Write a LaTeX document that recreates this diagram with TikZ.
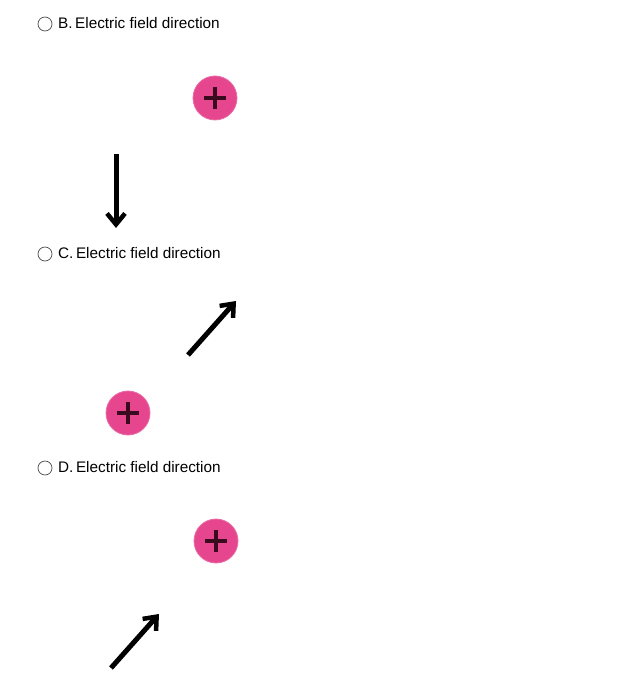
\documentclass[tikz,border=0pt]{standalone}
\usepackage{fontspec}
\setmainfont{Liberation Sans}
\usetikzlibrary{arrows.meta}
\definecolor{pinkc}{HTML}{E5468E}
\definecolor{plusc}{HTML}{3A0A1E}
\tikzset{
  charge/.style={circle,fill=pinkc,draw=pinkc!80!white,line width=0.8pt,minimum size=44pt,inner sep=0pt},
  radio/.style={circle,draw=black!70,line width=0.7pt,minimum size=14pt,inner sep=0pt},
  lbl/.style={anchor=west,inner sep=0pt,font=\fontsize{15.3pt}{17pt}\selectfont},
  field/.style={line width=5pt,-{Straight Barb[length=11pt,width=18pt,line width=4.5pt]}}
}
\newcommand{\plussign}[1]{\draw[plusc,line width=4pt] ([xshift=-11pt]#1.center)--([xshift=11pt]#1.center) ([yshift=-11pt]#1.center)--([yshift=11pt]#1.center);}
\begin{document}
\begin{tikzpicture}[x=1pt,y=-1pt]
\useasboundingbox (0,0) rectangle (637,700);
\node[radio] (rb) at (45,24) {};
\node[lbl] (tb) at (58,23) {B.\,Electric field direction};
\node[charge] (qb) at (215,98) {};
\plussign{qb}
\coordinate (b1) at (116,154);
\coordinate (b2) at (116,228);
\draw[field] (b1) -- (b2);

\node[radio] (rc) at (45,254) {};
\node[lbl] (tc) at (58,253) {C.\,Electric field direction};
\coordinate (c1) at (188,355);
\coordinate (c2) at (236,301);
\draw[field] (c1) -- (c2);
\node[charge] (qc) at (128,413) {};
\plussign{qc}

\node[radio] (rd) at (45,468) {};
\node[lbl] (td) at (58,467) {D.\,Electric field direction};
\node[charge] (qd) at (216,541) {};
\plussign{qd}
\coordinate (d1) at (111,668);
\coordinate (d2) at (159,614);
\draw[field] (d1) -- (d2);
\end{tikzpicture}
\end{document}
